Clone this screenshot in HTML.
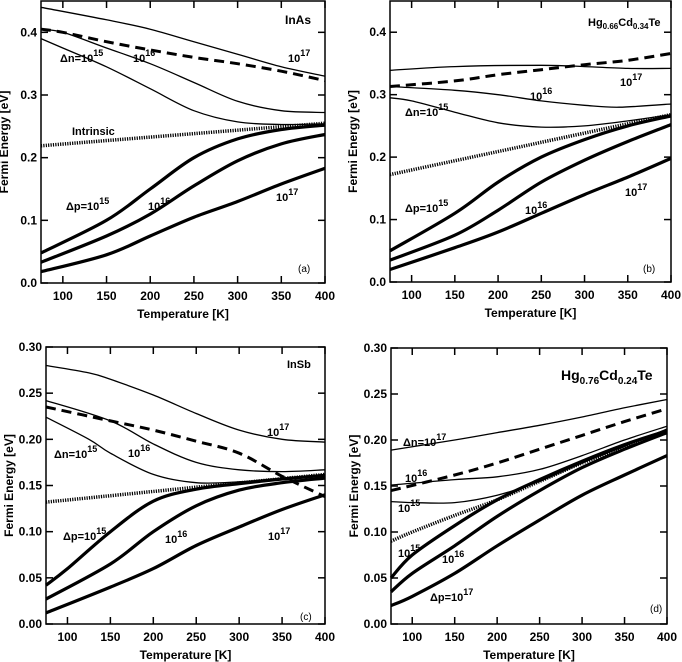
<!DOCTYPE html>
<html><head><meta charset="utf-8"><style>
html,body{margin:0;padding:0;background:#fff;}
svg{display:block;font-family:"Liberation Sans",Arial,sans-serif;font-weight:bold;}
</style></head><body>
<svg id="s" width="682" height="662" viewBox="0 0 682 662" xmlns="http://www.w3.org/2000/svg"></svg>
<script>
const S=document.getElementById('s');let h='';
const panels=[
{x0:41,x1:325,yb:283,yt:1,ymax:0.45,ticks:[0,0.1,0.2,0.3,0.4],fmt:1,
 curves:[
 ['n',[[75,0.44],[150,0.42],[200,0.405],[250,0.385],[300,0.365],[350,0.345],[400,0.33]]],
 ['d',[[75,0.405],[100,0.40],[150,0.385],[200,0.372],[250,0.36],[300,0.35],[350,0.338],[400,0.323]]],
 ['n',[[75,0.405],[100,0.40],[150,0.375],[200,0.35],[250,0.32],[300,0.29],[350,0.275],[400,0.272]]],
 ['n',[[75,0.39],[100,0.375],[150,0.345],[200,0.31],[250,0.275],[300,0.257],[350,0.253],[400,0.254]]],
 ['i',[[75,0.219],[400,0.255]]],
 ['t',[[75,0.048],[150,0.1],[200,0.15],[250,0.2],[300,0.23],[350,0.245],[400,0.252]]],
 ['t',[[75,0.033],[150,0.075],[200,0.11],[250,0.155],[300,0.195],[350,0.222],[400,0.237]]],
 ['t',[[75,0.018],[150,0.045],[200,0.075],[250,0.105],[300,0.13],[350,0.158],[400,0.183]]]],
 labels:[[285,24,'InAs',12],[60,62,'Δn=10<tspan dy="-6" font-size="9">15</tspan>',11],[133,62,'10<tspan dy="-6" font-size="9">16</tspan>',11],[288,62,'10<tspan dy="-6" font-size="9">17</tspan>',11],[72,135,'Intrinsic',11],[66,210,'Δp=10<tspan dy="-6" font-size="9">15</tspan>',11],[148,210,'10<tspan dy="-6" font-size="9">16</tspan>',11],[276,201,'10<tspan dy="-6" font-size="9">17</tspan>',11],[298,272,'(a)',10,'normal']]},
{x0:390,x1:671,yb:282,yt:1,ymax:0.45,ticks:[0,0.1,0.2,0.3,0.4],fmt:1,
 curves:[
 ['n',[[75,0.339],[150,0.345],[250,0.347],[300,0.345],[350,0.342],[400,0.342]]],
 ['d',[[75,0.313],[150,0.322],[200,0.332],[250,0.34],[300,0.348],[350,0.355],[400,0.366]]],
 ['n',[[75,0.313],[150,0.307],[200,0.3],[250,0.29],[300,0.283],[340,0.28],[400,0.285]]],
 ['n',[[75,0.295],[100,0.29],[150,0.272],[200,0.255],[250,0.248],[300,0.25],[350,0.258],[400,0.268]]],
 ['i',[[75,0.172],[400,0.268]]],
 ['t',[[75,0.05],[150,0.11],[200,0.16],[250,0.2],[300,0.228],[350,0.25],[400,0.266]]],
 ['t',[[75,0.035],[150,0.075],[200,0.115],[250,0.16],[300,0.195],[350,0.225],[400,0.252]]],
 ['t',[[75,0.02],[150,0.055],[200,0.08],[250,0.11],[300,0.14],[350,0.168],[400,0.198]]]],
 labels:[[588,26,'Hg<tspan dy="3" font-size="8">0.66</tspan><tspan dy="-3">Cd</tspan><tspan dy="3" font-size="8">0.34</tspan><tspan dy="-3">Te</tspan>',11],[620,86,'10<tspan dy="-6" font-size="9">17</tspan>',11],[530,100,'10<tspan dy="-6" font-size="9">16</tspan>',11],[405,116,'Δn=10<tspan dy="-6" font-size="9">15</tspan>',11],[405,212,'Δp=10<tspan dy="-6" font-size="9">15</tspan>',11],[525,214,'10<tspan dy="-6" font-size="9">16</tspan>',11],[625,196,'10<tspan dy="-6" font-size="9">17</tspan>',11],[643,272,'(b)',10,'normal']]},
{x0:46,x1:325,yb:624,yt:347,ymax:0.30,ticks:[0,0.05,0.1,0.15,0.2,0.25,0.3],fmt:2,
 curves:[
 ['n',[[75,0.28],[125,0.272],[150,0.265],[200,0.248],[250,0.228],[300,0.21],[350,0.2],[400,0.197]]],
 ['n',[[75,0.242],[150,0.22],[200,0.195],[250,0.175],[300,0.167],[350,0.165],[400,0.167]]],
 ['d',[[75,0.235],[150,0.22],[200,0.21],[250,0.198],[300,0.185],[350,0.16],[400,0.138]]],
 ['n',[[75,0.224],[125,0.2],[150,0.185],[200,0.162],[250,0.153],[300,0.154],[350,0.158],[400,0.162]]],
 ['i',[[75,0.132],[400,0.162]]],
 ['t',[[75,0.042],[100,0.06],[150,0.1],[200,0.133],[250,0.146],[300,0.152],[350,0.157],[400,0.161]]],
 ['t',[[75,0.027],[150,0.065],[200,0.1],[250,0.128],[300,0.145],[350,0.153],[400,0.158]]],
 ['t',[[75,0.012],[150,0.04],[200,0.06],[250,0.085],[300,0.105],[350,0.124],[400,0.14]]]],
 labels:[[287,368,'InSb',11],[267,436,'10<tspan dy="-6" font-size="9">17</tspan>',11],[54,458,'Δn=10<tspan dy="-6" font-size="9">15</tspan>',11],[128,457,'10<tspan dy="-6" font-size="9">16</tspan>',11],[63,540,'Δp=10<tspan dy="-6" font-size="9">15</tspan>',11],[165,543,'10<tspan dy="-6" font-size="9">16</tspan>',11],[268,540,'10<tspan dy="-6" font-size="9">17</tspan>',11],[300,620,'(c)',10,'normal']]},
{x0:391,x1:667,yb:624,yt:348,ymax:0.30,ticks:[0,0.05,0.1,0.15,0.2,0.25,0.3],fmt:2,
 curves:[
 ['n',[[75,0.189],[150,0.2],[200,0.208],[250,0.216],[300,0.225],[350,0.235],[400,0.244]]],
 ['d',[[75,0.145],[150,0.162],[200,0.175],[250,0.19],[300,0.205],[350,0.22],[400,0.234]]],
 ['n',[[75,0.151],[150,0.157],[200,0.16],[250,0.168],[300,0.183],[350,0.2],[400,0.215]]],
 ['n',[[75,0.133],[100,0.132],[150,0.132],[200,0.14],[250,0.155],[300,0.175],[350,0.193],[400,0.212]]],
 ['i',[[75,0.09],[100,0.1],[150,0.118],[200,0.135],[250,0.155],[300,0.175],[350,0.192],[400,0.209]]],
 ['t',[[75,0.05],[100,0.075],[150,0.107],[200,0.135],[250,0.157],[300,0.177],[350,0.195],[400,0.21]]],
 ['t',[[75,0.035],[100,0.055],[150,0.085],[200,0.117],[250,0.145],[300,0.17],[350,0.19],[400,0.208]]],
 ['t',[[75,0.02],[100,0.03],[150,0.055],[200,0.085],[250,0.113],[300,0.14],[350,0.162],[400,0.183]]]],
 labels:[[561,380,'Hg<tspan dy="4" font-size="10">0.76</tspan><tspan dy="-4">Cd</tspan><tspan dy="4" font-size="10">0.24</tspan><tspan dy="-4">Te</tspan>',14],[403,446,'Δn=10<tspan dy="-6" font-size="9">17</tspan>',11],[405,482,'10<tspan dy="-6" font-size="9">16</tspan>',11],[398,512,'10<tspan dy="-6" font-size="9">15</tspan>',11],[398,557,'10<tspan dy="-6" font-size="9">15</tspan>',11],[442,563,'10<tspan dy="-6" font-size="9">16</tspan>',11],[430,601,'Δp=10<tspan dy="-6" font-size="9">17</tspan>',11],[650,612,'(d)',10,'normal']]}
];
function spline(P){
 let d='M'+P[0][0].toFixed(1)+','+P[0][1].toFixed(1);
 for(let i=0;i<P.length-1;i++){
  const p0=P[Math.max(i-1,0)],p1=P[i],p2=P[i+1],p3=P[Math.min(i+2,P.length-1)];
  const c1=[p1[0]+(p2[0]-p0[0])/6,p1[1]+(p2[1]-p0[1])/6];
  const c2=[p2[0]-(p3[0]-p1[0])/6,p2[1]-(p3[1]-p1[1])/6];
  d+='C'+c1.map(v=>v.toFixed(1))+' '+c2.map(v=>v.toFixed(1))+' '+p2.map(v=>v.toFixed(1));
 }
 return d;
}
for(const p of panels){
 const X=t=>p.x0+(t-75)/325*(p.x1-p.x0);
 const Y=e=>p.yb-e/p.ymax*(p.yb-p.yt);
 h+=`<rect x="${p.x0}" y="${p.yt}" width="${p.x1-p.x0}" height="${p.yb-p.yt}" fill="none" stroke="#000" stroke-width="1.5"/>`;
 for(let t=100;t<=400;t+=50){const x=X(t);
  h+=`<line x1="${x}" y1="${p.yb}" x2="${x}" y2="${p.yb-7}" stroke="#000" stroke-width="1.5"/><line x1="${x}" y1="${p.yt}" x2="${x}" y2="${p.yt+7}" stroke="#000" stroke-width="1.5"/>`;
  h+=`<text x="${x}" y="${p.yb+17}" font-size="12" text-anchor="middle">${t}</text>`;}
 for(const e of p.ticks){const y=Y(e);
  h+=`<line x1="${p.x0}" y1="${y}" x2="${p.x0+7}" y2="${y}" stroke="#000" stroke-width="1.5"/><line x1="${p.x1}" y1="${y}" x2="${p.x1-7}" y2="${y}" stroke="#000" stroke-width="1.5"/>`;
  h+=`<text x="${p.x0-4}" y="${y+4}" font-size="12" text-anchor="end">${e.toFixed(p.fmt)}</text>`;}
 const cx=(p.x0+p.x1)/2,cy=(p.yb+p.yt)/2;
 h+=`<text x="${cx}" y="${p.yb+35}" font-size="12" text-anchor="middle">Temperature [K]</text>`;
 h+=`<text transform="translate(${p.x0-33},${cy}) rotate(-90)" font-size="12" text-anchor="middle">Fermi Energy [eV]</text>`;
 for(const [k,pts] of p.curves){
  const d=spline(pts.map(q=>[X(q[0]),Y(q[1])]));
  const st={n:'stroke-width="1.3"',d:'stroke-width="3" stroke-dasharray="10,6"',i:'stroke-width="3.5" stroke-dasharray="1.2,1.2"',t:'stroke-width="3.2"'}[k];
  h+=`<path d="${d}" fill="none" stroke="#000" ${st} stroke-linejoin="round"/>`;}
 for(const l of p.labels){h+=`<text x="${l[0]}" y="${l[1]}" font-size="${l[3]}" ${l[4]?'font-weight="normal"':''}>${l[2]}</text>`;}
}
S.innerHTML=h;
</script>
</body></html>
